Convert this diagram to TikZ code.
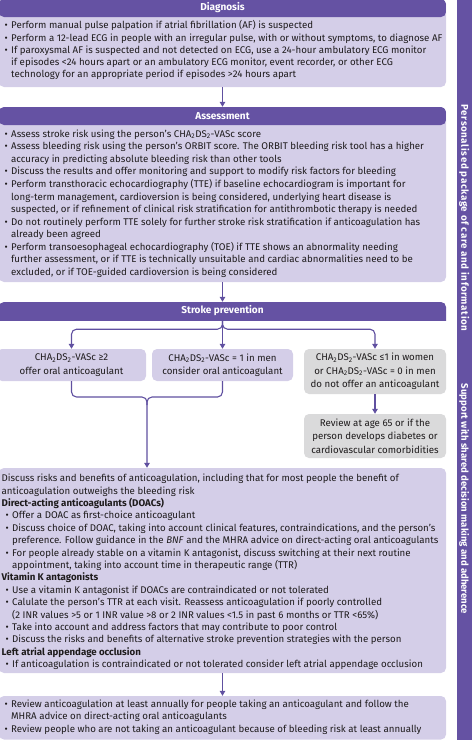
\documentclass[tikz,border=0pt]{standalone}
\usepackage{fontspec}
\setmainfont{Fira Sans}
\usetikzlibrary{arrows.meta}
\definecolor{hdrc}{RGB}{101,82,163}
\definecolor{bodyc}{RGB}{212,206,232}
\definecolor{grayc}{RGB}{218,218,219}
\definecolor{linec}{RGB}{96,80,160}
\definecolor{textc}{RGB}{30,27,28}
\newcommand\bu{\makebox[10.5pt][l]{\hspace{4pt}\textbullet}}
\newcommand\ind{\hspace*{10.5pt}}
\newcommand\chads{CHA\textsubscript{2}DS\textsubscript{2}-VASc}
\begin{document}
\begin{tikzpicture}[x=1pt,y=-1pt,
  mainbox/.style={fill=bodyc, rounded corners=5pt, inner sep=0, minimum width=447pt},
  hdrfill/.style={path picture={\fill[hdrc] (path picture bounding box.north west) rectangle ([yshift=-18pt]path picture bounding box.north east);}},
  hdrtxt/.style={font=\bfseries\fontsize{10}{12}\selectfont, text=white, inner sep=0},
  txt/.style={anchor=north west, inner sep=0, align=left, text=textc},
  sbox/.style={fill=bodyc, rounded corners=5pt, inner sep=0, align=center, text=textc, font=\fontsize{9.7}{13.3}\selectfont},
  gbox/.style={sbox, fill=grayc},
  lineL/.style={draw=linec, line width=1.1pt, rounded corners=5pt},
  conn/.style={lineL, -{Triangle[width=5.5pt,length=5pt]}},
  sidetxt/.style={text=white, inner sep=0, rotate=-90}
]
\useasboundingbox (0,0) rectangle (474,740);
\clip (0,0) rectangle (474,740);

% Diagnosis
\node[mainbox, hdrfill, minimum height=88pt] (diag) at (222.5,43) {};
\node[hdrtxt] (diagT) at (222.5,8) {Diagnosis};
\node[txt, font=\fontsize{9.7}{12.25}\selectfont] (diagX) at (0.5,20) {\strut\bu Perform manual pulse palpation if atrial fibrillation (AF) is suspected\\
\bu Perform a 12-lead ECG in people with an irregular pulse, with or without symptoms, to diagnose AF\\
\bu If paroxysmal AF is suspected and not detected on ECG, use a 24-hour ambulatory ECG monitor\\
\ind if episodes <24 hours apart or an ambulatory ECG monitor, event recorder, or other ECG\\
\ind technology for an appropriate period if episodes >24 hours apart};

% Assessment
\node[mainbox, hdrfill, minimum height=175pt] (assess) at (222.5,194.5) {};
\node[hdrtxt] (assessT) at (222.5,116) {Assessment};
\node[txt, font=\fontsize{9.7}{12.58}\selectfont] (assessX) at (0.5,128.1) {\strut\bu Assess stroke risk using the person’s \chads{} score\\
\bu Assess bleeding risk using the person’s ORBIT score. The ORBIT bleeding risk tool has a higher\\
\ind accuracy in predicting absolute bleeding risk than other tools\\
\bu Discuss the results and offer monitoring and support to modify risk factors for bleeding\\
\bu Perform transthoracic echocardiography (TTE) if baseline echocardiogram is important for\\
\ind long-term management, cardioversion is being considered, underlying heart disease is\\
\ind suspected, or if refinement of clinical risk stratification for antithrombotic therapy is needed\\
\bu Do not routinely perform TTE solely for further stroke risk stratification if anticoagulation has\\
\ind already been agreed\\
\bu Perform transoesophageal echocardiography (TOE) if TTE shows an abnormality needing\\
\ind further assessment, or if TTE is technically unsuitable and cardiac abnormalities need to be\\
\ind excluded, or if TOE-guided cardioversion is being considered};

% Stroke prevention header
\begin{scope}
\clip (-1,302) rectangle (446,320);
\fill[hdrc, rounded corners=5pt] (-1,302) rectangle (446,330);
\end{scope}
\node[hdrtxt, minimum width=447pt, minimum height=18pt] (sp) at (222.5,311) {Stroke prevention};

% Option boxes
\node[sbox, minimum width=149pt, minimum height=32pt] (b1) at (71.5,365) {\chads{} ≥2\\offer oral anticoagulant};
\node[sbox, minimum width=141pt, minimum height=32pt] (b2) at (222.5,365) {\chads{} = 1 in men\\consider oral anticoagulant};
\node[gbox, minimum width=142pt, minimum height=45pt] (b3) at (375,371.5) {\chads{} ≤1 in women\\or \chads{} = 0 in men\\do not offer an anticoagulant};
\node[gbox, minimum width=142pt, minimum height=44pt] (b4) at (375,436) {Review at age 65 or if the\\person develops diabetes or\\cardiovascular comorbidities};

% Treatment box
\node[mainbox, minimum height=205pt] (big) at (222.5,570.5) {};
\node[txt, font=\fontsize{9.7}{12.4}\selectfont] (bigX) at (1.5,472.9) {\strut Discuss risks and benefits of anticoagulation, including that for most people the benefit of\\
anticoagulation outweighs the bleeding risk\\
\textbf{Direct-acting anticoagulants (DOACs)}\\
\bu Offer a DOAC as first-choice anticoagulant\\
\bu Discuss choice of DOAC, taking into account clinical features, contraindications, and the person’s\\
\ind preference. Follow guidance in the \textit{BNF} and the MHRA advice on direct-acting oral anticoagulants\\
\bu For people already stable on a vitamin K antagonist, discuss switching at their next routine\\
\ind appointment, taking into account time in therapeutic range (TTR)\\
\textbf{Vitamin K antagonists}\\
\bu Use a vitamin K antagonist if DOACs are contraindicated or not tolerated\\
\bu Calulate the person’s TTR at each visit. Reassess anticoagulation if poorly controlled\\
\ind (2 INR values >5 or 1 INR value >8 or 2 INR values <1.5 in past 6 months or TTR <65\%)\\
\bu Take into account and address factors that may contribute to poor control\\
\bu Discuss the risks and benefits of alternative stroke prevention strategies with the person\\
\textbf{Left atrial appendage occlusion}\\
\bu If anticoagulation is contraindicated or not tolerated consider left atrial appendage occlusion};

% Review box
\node[mainbox, minimum height=43.5pt] (final) at (222.5,717.75) {};
\node[txt, font=\fontsize{9.7}{12.15}\selectfont] (finalX) at (0.5,699.1) {\strut\bu Review anticoagulation at least annually for people taking an anticoagulant and follow the\\
\ind MHRA advice on direct-acting oral anticoagulants\\
\bu Review people who are not taking an anticoagulant because of bleeding risk at least annually};

% Sidebar
\node[fill=hdrc, minimum width=15.5pt, minimum height=744pt, inner sep=0] (side) at (464.25,370) {};
\node[sidetxt, font=\bfseries\fontsize{9.8}{12}\selectfont\addfontfeatures{LetterSpace=6}] (s1) at (464.25,218) {Personalised package of care and information};
\node[sidetxt, font=\bfseries\fontsize{9.6}{12}\selectfont] (s2) at (464.25,499) {Support with shared decision making and adherence};

% Connectors
\draw[conn] (diag.south) -- (assess.north);
\draw[conn] (assess.south) -- (sp.north);
\draw[conn] (sp.south) -- ++(0,9) -| (b1.north);
\draw[conn] (sp.south) -- ++(0,9) -| (b3.north);
\draw[conn] (sp.south) -- (b2.north);
\draw[conn] (b3.south) -- (b4.north);
\coordinate (m) at (147,397);
\draw[conn] (b1.south) |- (m) -- (m |- big.north);
\draw[lineL] (b2.south) |- (m) -- ++(0,8);
\draw[conn] (big.south) -- (final.north);
\end{tikzpicture}
\end{document}
